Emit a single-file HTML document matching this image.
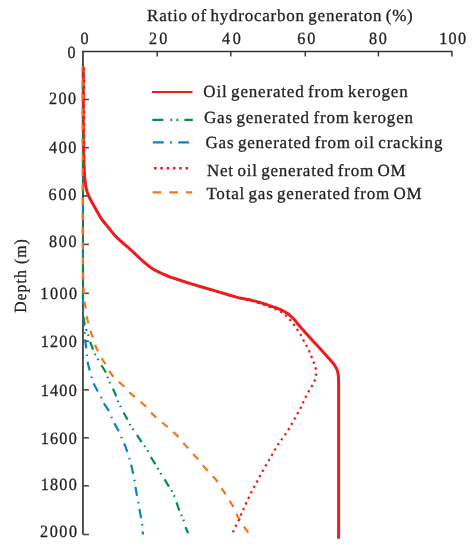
<!DOCTYPE html>
<html><head><meta charset="utf-8"><style>
html,body{margin:0;padding:0;background:#fff;}
svg{display:block;}
text{font-family:"Liberation Serif","Times New Roman",serif;fill:#231f20;stroke:#231f20;stroke-width:0.3px;text-rendering:geometricPrecision;}
</style></head><body>
<svg width="474" height="550" viewBox="0 0 474 550">
<rect width="474" height="550" fill="#fff"/>
<path d="M82.95,534.5 L82.95,51.5" fill="none" stroke="#4a4a4a" stroke-width="1.9"/>
<path d="M82.0,51.5 L451.9,51.5 L451.9,56.6" fill="none" stroke="#333" stroke-width="1.5" stroke-linejoin="miter"/>
<line x1="157.2" y1="51.5" x2="157.2" y2="56.4" stroke="#333" stroke-width="1.4"/>
<line x1="230.8" y1="51.5" x2="230.8" y2="56.4" stroke="#333" stroke-width="1.4"/>
<line x1="305.3" y1="51.5" x2="305.3" y2="56.4" stroke="#333" stroke-width="1.4"/>
<line x1="378.4" y1="51.5" x2="378.4" y2="56.4" stroke="#333" stroke-width="1.4"/>
<line x1="82.95" y1="99.5" x2="88.9" y2="99.5" stroke="#4a4a4a" stroke-width="1.6"/>
<line x1="82.95" y1="147.7" x2="88.9" y2="147.7" stroke="#4a4a4a" stroke-width="1.6"/>
<line x1="82.95" y1="195.9" x2="88.9" y2="195.9" stroke="#4a4a4a" stroke-width="1.6"/>
<line x1="82.95" y1="244.4" x2="88.9" y2="244.4" stroke="#4a4a4a" stroke-width="1.6"/>
<line x1="82.95" y1="293.3" x2="88.9" y2="293.3" stroke="#4a4a4a" stroke-width="1.6"/>
<line x1="82.95" y1="341.2" x2="88.9" y2="341.2" stroke="#4a4a4a" stroke-width="1.6"/>
<line x1="82.95" y1="389.8" x2="88.9" y2="389.8" stroke="#4a4a4a" stroke-width="1.6"/>
<line x1="82.95" y1="437.8" x2="88.9" y2="437.8" stroke="#4a4a4a" stroke-width="1.6"/>
<line x1="82.95" y1="485.8" x2="88.9" y2="485.8" stroke="#4a4a4a" stroke-width="1.6"/>
<line x1="82.95" y1="534.5" x2="88.9" y2="534.5" stroke="#4a4a4a" stroke-width="1.6"/>
<path d="M83.00,66.90 C83.00,89.08 83.00,161.15 83.00,200.00 C83.00,238.85 82.90,280.00 83.00,300.00 C83.10,320.00 83.33,314.58 83.60,320.00 C83.87,325.42 84.35,329.23 84.60,332.50 C84.85,335.77 84.83,337.05 85.10,339.60 C85.37,342.15 85.92,345.27 86.20,347.80 C86.48,350.33 86.57,352.43 86.80,354.80 C87.03,357.17 87.12,359.43 87.60,362.00 C88.08,364.57 89.03,367.68 89.70,370.20 C90.37,372.72 90.95,374.92 91.60,377.10 C92.25,379.28 92.58,380.95 93.60,383.30 C94.62,385.65 96.45,388.90 97.70,391.20 C98.95,393.50 100.12,395.13 101.10,397.10 C102.08,399.07 102.33,400.75 103.60,403.00 C104.87,405.25 107.37,408.20 108.70,410.60 C110.03,413.00 110.65,415.28 111.60,417.40 C112.55,419.52 113.23,421.03 114.40,423.30 C115.57,425.57 117.42,428.63 118.60,431.00 C119.77,433.37 120.50,435.40 121.45,437.50 C122.40,439.60 123.31,441.17 124.30,443.60 C125.29,446.03 126.55,449.62 127.40,452.10 C128.25,454.58 128.78,456.40 129.40,458.50 C130.02,460.60 130.50,462.28 131.10,464.70 C131.70,467.12 132.45,470.50 133.00,473.00 C133.55,475.50 133.99,477.38 134.40,479.70 C134.81,482.02 135.00,484.13 135.45,486.90 C135.90,489.67 136.59,493.58 137.10,496.30 C137.61,499.02 138.12,501.10 138.50,503.20 C138.88,505.30 138.93,506.20 139.40,508.90 C139.87,511.60 140.82,516.70 141.30,519.40 C141.78,522.10 142.07,523.05 142.30,525.10 C142.53,527.15 142.58,530.13 142.70,531.70 C142.82,533.27 142.95,534.03 143.00,534.50" fill="none" stroke="#0484c8" stroke-width="2.2" stroke-dasharray="9 6.25 1.6 5.66" stroke-dashoffset="20.08"/>
<path d="M83.30,66.90 L83.30,69.19 L83.30,70.96 L83.30,72.91 L83.30,74.91 L83.30,76.91 L83.30,78.92 L83.30,80.92 L83.30,82.92 L83.30,84.92 L83.30,86.93 L83.30,88.93 L83.30,90.93 L83.30,92.94 L83.30,94.94 L83.30,96.94 L83.30,98.94 L83.30,100.95 L83.30,102.95 L83.30,104.95 L83.30,106.95 L83.30,108.96 L83.30,110.96 L83.30,112.96 L83.30,114.97 L83.30,116.97 L83.30,118.97 L83.31,120.97 L83.32,122.98 L83.33,124.98 L83.35,126.98 L83.36,128.98 L83.37,130.99 L83.39,132.99 L83.40,134.99 L83.41,136.99 L83.43,139.00 L83.44,141.00 L83.45,143.00 L83.47,145.01 L83.48,147.01 L83.51,149.01 L83.55,151.01 L83.60,153.01 L83.67,155.02 L83.73,157.02 L83.80,159.02 L83.87,161.02 L83.94,163.02 L84.02,165.02 L84.11,167.02 L84.20,169.02 L84.30,171.02 L84.41,173.02 L84.52,175.02 L84.68,177.02 L84.88,179.01 L85.11,181.00 L85.37,182.98 L85.64,184.97 L85.96,186.94 L86.38,188.89 L86.89,190.82 L87.48,192.73 L88.15,194.61 L88.92,196.45 L89.79,198.24 L90.72,200.02 L91.67,201.78 L92.64,203.53 L93.61,205.28 L94.59,207.03 L95.57,208.78 L96.55,210.52 L97.54,212.26 L98.54,214.00 L99.54,215.73 L100.58,217.44 L101.68,219.11 L102.87,220.71 L104.12,222.27 L105.39,223.82 L106.67,225.36 L107.93,226.91 L109.19,228.47 L110.45,230.03 L111.70,231.60 L112.96,233.15 L114.24,234.69 L115.58,236.17 L116.99,237.58 L118.45,238.95 L119.93,240.30 L121.42,241.64 L122.91,242.97 L124.42,244.29 L125.94,245.59 L127.46,246.89 L128.98,248.20 L130.49,249.51 L131.98,250.85 L133.44,252.22 L134.88,253.61 L136.31,255.01 L137.75,256.41 L139.19,257.79 L140.66,259.15 L142.17,260.47 L143.69,261.77 L145.23,263.05 L146.77,264.33 L148.31,265.61 L149.87,266.86 L151.48,268.04 L153.16,269.11 L154.90,270.07 L156.68,270.98 L158.48,271.87 L160.28,272.74 L162.09,273.59 L163.92,274.41 L165.75,275.22 L167.59,276.00 L169.46,276.73 L171.34,277.40 L173.24,278.02 L175.15,278.64 L177.05,279.26 L178.95,279.89 L180.85,280.52 L182.76,281.15 L184.66,281.77 L186.57,282.38 L188.48,282.98 L190.39,283.57 L192.31,284.15 L194.23,284.73 L196.14,285.31 L198.06,285.88 L199.98,286.45 L201.90,287.01 L203.83,287.56 L205.76,288.11 L207.68,288.66 L209.61,289.21 L211.53,289.77 L213.45,290.34 L215.37,290.92 L217.28,291.50 L219.20,292.08 L221.12,292.66 L223.04,293.23 L224.95,293.81 L226.87,294.38 L228.80,294.94 L230.72,295.50 L232.64,296.05 L234.57,296.61 L236.50,297.14 L238.44,297.64 L240.39,298.08 L242.35,298.47 L244.32,298.84 L246.29,299.21 L248.26,299.57 L250.22,299.96 L252.17,300.39 L254.11,300.88 L256.04,301.41 L257.97,301.96 L259.89,302.52 L261.81,303.08 L263.73,303.67 L265.63,304.29 L267.53,304.93 L269.42,305.58 L271.32,306.21 L273.23,306.84 L275.13,307.46 L277.01,308.12 L278.87,308.86 L280.70,309.67 L282.50,310.54 L284.28,311.45 L286.01,312.44 L287.65,313.55 L289.21,314.78 L290.72,316.09 L292.20,317.44 L293.60,318.86 L294.94,320.34 L296.21,321.88 L297.47,323.44 L298.73,325.00 L300.01,326.54 L301.31,328.06 L302.63,329.56 L303.97,331.05 L305.31,332.54 L306.66,334.02 L308.00,335.51 L309.35,336.99 L310.71,338.46 L312.06,339.93 L313.42,341.40 L314.78,342.88 L316.14,344.35 L317.49,345.83 L318.84,347.31 L320.18,348.79 L321.53,350.28 L322.87,351.76 L324.21,353.25 L325.56,354.73 L326.91,356.21 L328.26,357.68 L329.61,359.16 L330.95,360.66 L332.24,362.18 L333.49,363.74 L334.67,365.35 L335.73,367.03 L336.63,368.80 L337.34,370.64 L337.87,372.55 L338.22,374.51 L338.43,376.49 L338.53,378.49 L338.57,380.49 L338.58,382.49 L338.59,384.49 L338.60,386.49 L338.60,388.50 L338.60,390.50 L338.60,392.50 L338.60,394.50 L338.60,396.51 L338.60,398.51 L338.60,400.51 L338.60,402.51 L338.60,404.52 L338.60,406.52 L338.60,408.52 L338.60,410.53 L338.60,412.53 L338.60,414.53 L338.60,416.53 L338.60,418.54 L338.60,420.54 L338.60,422.54 L338.60,424.54 L338.60,426.55 L338.60,428.55 L338.60,430.55 L338.60,432.56 L338.60,434.56 L338.60,436.56 L338.60,438.56 L338.60,440.57 L338.60,442.57 L338.60,444.57 L338.60,446.57 L338.60,448.58 L338.60,450.58 L338.60,452.58 L338.60,454.59 L338.60,456.59 L338.60,458.59 L338.60,460.59 L338.60,462.60 L338.60,464.60 L338.60,466.60 L338.60,468.60 L338.60,470.61 L338.60,472.61 L338.60,474.61 L338.60,476.62 L338.60,478.62 L338.60,480.62 L338.60,482.62 L338.60,484.63 L338.60,486.63 L338.60,488.63 L338.60,490.63 L338.60,492.64 L338.60,494.64 L338.60,496.64 L338.60,498.65 L338.60,500.65 L338.60,502.65 L338.60,504.65 L338.60,506.66 L338.60,508.66 L338.60,510.66 L338.60,512.66 L338.60,514.67 L338.60,516.67 L338.60,518.67 L338.60,520.68 L338.60,522.68 L338.60,524.68 L338.60,526.68 L338.60,528.69 L338.60,530.69 L338.60,532.69 L338.60,534.64 L338.60,536.41 L338.60,538.70 L338.60,538.70" fill="none" stroke="#ee1c1c" stroke-width="3.0"/>
<path d="M83.00,66.90 C83.00,89.08 83.00,161.15 83.00,200.00 C83.00,238.85 82.95,281.00 83.00,300.00 C83.05,319.00 83.10,310.33 83.30,314.00 C83.50,317.67 83.72,319.40 84.20,322.00 C84.68,324.60 85.50,327.37 86.20,329.60 C86.90,331.83 87.73,333.35 88.40,335.40 C89.07,337.45 89.38,339.45 90.20,341.90 C91.02,344.35 92.47,348.02 93.30,350.10 C94.13,352.18 94.38,352.80 95.20,354.40 C96.02,356.00 97.17,357.92 98.20,359.70 C99.23,361.48 100.07,362.87 101.40,365.10 C102.73,367.33 105.18,371.13 106.20,373.10 C107.22,375.07 106.95,375.42 107.50,376.90 C108.05,378.38 108.60,380.03 109.50,382.00 C110.40,383.97 111.77,386.32 112.90,388.70 C114.03,391.08 115.45,394.18 116.30,396.30 C117.15,398.42 117.30,399.72 118.00,401.40 C118.70,403.08 119.58,404.58 120.50,406.40 C121.42,408.22 122.32,410.05 123.50,412.30 C124.68,414.55 126.47,417.78 127.60,419.90 C128.73,422.02 129.37,423.38 130.30,425.00 C131.23,426.62 132.13,427.98 133.20,429.60 C134.27,431.22 135.22,432.50 136.70,434.70 C138.18,436.90 140.70,440.80 142.10,442.80 C143.50,444.80 144.12,445.30 145.10,446.70 C146.08,448.10 147.10,449.60 148.00,451.20 C148.90,452.80 149.23,454.05 150.50,456.30 C151.77,458.55 154.33,462.60 155.60,464.70 C156.87,466.80 157.20,467.35 158.10,468.90 C159.00,470.45 159.93,472.27 161.00,474.00 C162.07,475.73 163.10,477.08 164.50,479.30 C165.90,481.52 168.20,485.37 169.40,487.30 C170.60,489.23 170.83,489.35 171.70,490.90 C172.57,492.45 173.75,494.55 174.60,496.60 C175.45,498.65 175.87,500.52 176.80,503.20 C177.73,505.88 179.32,510.48 180.20,512.70 C181.08,514.92 181.47,515.07 182.10,516.50 C182.73,517.93 183.42,519.55 184.00,521.30 C184.58,523.05 185.02,525.27 185.60,527.00 C186.18,528.73 187.10,530.65 187.50,531.70 C187.90,532.75 187.92,533.03 188.00,533.30" fill="none" stroke="#00904a" stroke-width="2.2" stroke-dasharray="8.3 4.6 1.6 4.0 1.6 6.07" stroke-dashoffset="12.02"/>
<path d="M82.70,66.90 C82.70,89.08 82.67,167.82 82.70,200.00 C82.73,232.18 82.78,245.83 82.90,260.00 C83.02,274.17 83.15,278.18 83.40,285.00 C83.65,291.82 84.02,297.12 84.40,300.90 C84.78,304.68 85.32,305.12 85.70,307.70 C86.08,310.28 86.27,313.90 86.70,316.40 C87.13,318.90 87.70,320.32 88.30,322.70 C88.90,325.08 89.55,328.28 90.30,330.70 C91.05,333.12 92.00,334.82 92.80,337.20 C93.60,339.58 94.23,342.70 95.10,345.00 C95.97,347.30 96.85,348.70 98.00,351.00 C99.15,353.30 100.73,356.57 102.00,358.80 C103.27,361.03 104.33,362.30 105.60,364.40 C106.87,366.50 108.30,369.32 109.60,371.40 C110.90,373.48 111.87,375.15 113.40,376.90 C114.93,378.65 116.92,380.22 118.80,381.90 C120.68,383.58 123.02,385.30 124.70,387.00 C126.38,388.70 127.20,390.47 128.90,392.10 C130.60,393.73 133.07,395.25 134.90,396.80 C136.73,398.35 138.08,399.80 139.90,401.40 C141.72,403.00 143.97,404.58 145.80,406.40 C147.63,408.22 149.20,410.47 150.90,412.30 C152.60,414.13 154.10,415.70 156.00,417.40 C157.90,419.10 160.40,420.93 162.30,422.50 C164.20,424.07 165.62,425.27 167.40,426.80 C169.18,428.33 171.17,430.02 173.00,431.70 C174.83,433.38 176.73,435.07 178.40,436.90 C180.07,438.73 181.40,440.85 183.00,442.70 C184.60,444.55 186.23,446.03 188.00,448.00 C189.77,449.97 191.97,452.67 193.60,454.50 C195.23,456.33 196.25,457.18 197.80,459.00 C199.35,460.82 201.28,463.48 202.90,465.40 C204.52,467.32 205.82,468.67 207.50,470.50 C209.18,472.33 211.37,474.57 213.00,476.40 C214.63,478.23 215.88,479.53 217.30,481.50 C218.72,483.47 220.15,486.15 221.50,488.20 C222.85,490.25 224.08,491.75 225.40,493.80 C226.72,495.85 228.08,498.33 229.40,500.50 C230.72,502.67 232.15,504.58 233.30,506.80 C234.45,509.02 235.23,511.65 236.30,513.80 C237.37,515.95 238.43,517.60 239.70,519.70 C240.97,521.80 242.50,524.30 243.90,526.40 C245.30,528.50 247.25,531.07 248.10,532.30 C248.95,533.53 248.85,533.55 249.00,533.80" fill="none" stroke="#f7741a" stroke-width="2.2" stroke-dasharray="7.3 7.54" stroke-dashoffset="2.67"/>
<path d="M84.00,66.90 L84.00,69.06 L84.00,70.92 L84.00,72.90 L84.00,74.90 L84.00,76.91 L84.00,78.91 L84.00,80.91 L84.00,82.91 L84.00,84.91 L84.00,86.91 L84.00,88.91 L84.00,90.91 L84.00,92.92 L84.00,94.92 L84.00,96.92 L84.00,98.92 L84.00,100.92 L84.00,102.92 L84.00,104.92 L84.00,106.92 L84.00,108.93 L84.00,110.93 L84.00,112.93 L84.00,114.93 L84.00,116.93 L84.00,118.93 L84.00,120.93 L84.01,122.93 L84.02,124.93 L84.02,126.94 L84.03,128.94 L84.04,130.94 L84.04,132.94 L84.05,134.94 L84.06,136.94 L84.06,138.94 L84.07,140.94 L84.08,142.95 L84.08,144.95 L84.09,146.95 L84.09,148.95 L84.09,150.95 L84.08,152.95 L84.07,154.95 L84.05,156.95 L84.04,158.95 L84.03,160.96 L84.02,162.96 L84.04,164.96 L84.11,166.96 L84.20,168.96 L84.30,170.95 L84.40,172.95 L84.51,174.95 L84.66,176.95 L84.86,178.93 L85.10,180.92 L85.35,182.91 L85.61,184.89 L85.92,186.86 L86.33,188.82 L86.85,190.74 L87.44,192.65 L88.08,194.54 L88.85,196.38 L89.74,198.17 L90.67,199.94 L91.62,201.70 L92.59,203.45 L93.56,205.20 L94.54,206.95 L95.52,208.69 L96.50,210.43 L97.49,212.17 L98.48,213.91 L99.48,215.65 L100.50,217.37 L101.59,219.04 L102.79,220.63 L104.04,222.19 L105.32,223.73 L106.59,225.27 L107.86,226.82 L109.12,228.38 L110.37,229.94 L111.62,231.50 L112.87,233.06 L114.14,234.61 L115.47,236.10 L116.88,237.51 L118.35,238.87 L119.83,240.21 L121.31,241.55 L122.81,242.89 L124.32,244.20 L125.83,245.50 L127.35,246.80 L128.88,248.10 L130.39,249.41 L131.88,250.75 L133.34,252.12 L134.78,253.51 L136.21,254.91 L137.64,256.30 L139.08,257.70 L140.54,259.06 L142.04,260.38 L143.57,261.67 L145.11,262.95 L146.65,264.23 L148.19,265.51 L149.73,266.78 L151.32,267.98 L152.99,269.06 L154.74,270.01 L156.53,270.91 L158.32,271.80 L160.12,272.68 L161.93,273.52 L163.76,274.34 L165.59,275.16 L167.42,275.95 L169.28,276.69 L171.17,277.35 L173.07,277.97 L174.97,278.59 L176.88,279.20 L178.78,279.83 L180.68,280.46 L182.58,281.09 L184.48,281.72 L186.38,282.33 L188.29,282.92 L190.21,283.51 L192.12,284.09 L194.03,284.67 L195.95,285.25 L197.87,285.82 L199.79,286.39 L201.71,286.96 L203.63,287.51 L205.56,288.05 L207.48,288.60 L209.41,289.14 L211.33,289.71 L213.24,290.28 L215.16,290.86 L217.08,291.44 L218.99,292.01 L220.91,292.59 L222.82,293.17 L224.74,293.75 L226.66,294.32 L228.58,294.88 L230.50,295.44 L232.42,295.99 L234.35,296.55 L236.27,297.09 L238.20,297.62 L240.14,298.12 L242.09,298.58 L244.04,299.03 L245.99,299.47 L247.94,299.92 L249.89,300.38 L251.83,300.86 L253.75,301.41 L255.66,301.99 L257.57,302.59 L259.48,303.18 L261.39,303.79 L263.29,304.42 L265.17,305.10 L267.04,305.82 L268.90,306.56 L270.75,307.30 L272.61,308.04 L274.47,308.78 L276.33,309.52 L278.18,310.28 L279.97,311.15 L281.66,312.19 L283.29,313.34 L284.87,314.56 L286.35,315.89 L287.72,317.33 L289.04,318.84 L290.33,320.36 L291.61,321.90 L292.88,323.45 L294.11,325.02 L295.28,326.64 L296.41,328.30 L297.51,329.96 L298.62,331.63 L299.72,333.30 L300.77,335.00 L301.72,336.75 L302.59,338.55 L303.47,340.35 L304.42,342.10 L305.43,343.83 L306.45,345.55 L307.40,347.30 L308.27,349.10 L309.10,350.92 L309.89,352.76 L310.64,354.61 L311.38,356.47 L312.13,358.33 L312.88,360.19 L313.62,362.04 L314.34,363.91 L314.99,365.80 L315.54,367.71 L315.93,369.66 L316.14,371.64 L316.18,373.62 L315.99,375.59 L315.60,377.54 L315.05,379.45 L314.33,381.30 L313.48,383.10 L312.55,384.87 L311.55,386.60 L310.51,388.31 L309.47,390.02 L308.47,391.75 L307.52,393.51 L306.60,395.29 L305.70,397.08 L304.82,398.87 L303.96,400.68 L303.11,402.49 L302.27,404.31 L301.42,406.12 L300.53,407.91 L299.60,409.68 L298.65,411.44 L297.69,413.20 L296.73,414.95 L295.76,416.70 L294.80,418.46 L293.85,420.22 L292.90,421.98 L291.93,423.74 L290.95,425.48 L289.95,427.21 L288.92,428.92 L287.84,430.61 L286.75,432.28 L285.62,433.94 L284.47,435.58 L283.31,437.21 L282.14,438.83 L280.98,440.46 L279.81,442.08 L278.66,443.72 L277.56,445.39 L276.50,447.09 L275.47,448.80 L274.47,450.53 L273.49,452.28 L272.52,454.03 L271.54,455.78 L270.55,457.52 L269.55,459.25 L268.53,460.97 L267.50,462.69 L266.47,464.40 L265.45,466.12 L264.46,467.86 L263.48,469.60 L262.51,471.35 L261.53,473.10 L260.57,474.85 L259.62,476.62 L258.71,478.40 L257.80,480.18 L256.88,481.96 L255.94,483.72 L254.97,485.47 L254.01,487.23 L253.05,488.99 L252.11,490.75 L251.19,492.53 L250.32,494.33 L249.48,496.14 L248.64,497.96 L247.79,499.77 L246.92,501.58 L246.07,503.39 L245.23,505.20 L244.40,507.02 L243.57,508.85 L242.76,510.67 L241.94,512.50 L241.15,514.34 L240.39,516.19 L239.64,518.04 L238.85,519.88 L238.00,521.69 L237.10,523.48 L236.20,525.26 L235.32,527.06 L234.47,528.87 L233.68,530.65 L233.07,532.20 L232.60,533.50" fill="none" stroke="#ee1c1c" stroke-width="2.3" stroke-dasharray="2.3 3.825" stroke-dashoffset="5.21"/>
<line x1="152" y1="92" x2="192.5" y2="92" stroke="#ee1c1c" stroke-width="2.2"/>
<line x1="152.3" y1="119.8" x2="192.8" y2="119.8" stroke="#00904a" stroke-width="2.2" stroke-dasharray="11.1 7 1.8 4.2 1.8 6.2 11"/>
<line x1="152.8" y1="142.4" x2="189" y2="142.4" stroke="#0484c8" stroke-width="2.2" stroke-dasharray="10.9 6.4 1.8 6.4 11"/>
<line x1="154" y1="168.2" x2="190" y2="168.2" stroke="#ee1c1c" stroke-width="2.5" stroke-dasharray="2.6 3.7"/>
<line x1="152.6" y1="192.3" x2="192.2" y2="192.3" stroke="#f7741a" stroke-width="2.2" stroke-dasharray="8.6 8.1"/>
<text transform="translate(147.05,20.86) scale(1.0,1)" font-size="17" word-spacing="-1.5" textLength="265.74" lengthAdjust="spacing">Ratio of hydrocarbon generaton (%)</text>
<text transform="translate(80.39,43.71) scale(0.94,1)" font-size="17.2">0</text>
<text transform="translate(149.00,44.37) scale(0.94,1)" font-size="17.2" textLength="19.56" lengthAdjust="spacing">20</text>
<text transform="translate(222.05,43.95) scale(0.94,1)" font-size="17.2" textLength="19.95" lengthAdjust="spacing">40</text>
<text transform="translate(297.16,44.41) scale(0.94,1)" font-size="17.2" textLength="19.39" lengthAdjust="spacing">60</text>
<text transform="translate(369.03,44.35) scale(0.94,1)" font-size="17.2" textLength="18.92" lengthAdjust="spacing">80</text>
<text transform="translate(439.14,43.81) scale(0.94,1)" font-size="17.2" textLength="28.58" lengthAdjust="spacing">100</text>
<text transform="translate(67.47,57.72) scale(0.94,1)" font-size="17.2">0</text>
<text transform="translate(48.93,104.19) scale(0.94,1)" font-size="17.2" textLength="28.75" lengthAdjust="spacing">200</text>
<text transform="translate(49.09,153.11) scale(0.94,1)" font-size="17.2" textLength="29.01" lengthAdjust="spacing">400</text>
<text transform="translate(48.60,200.28) scale(0.94,1)" font-size="17.2" textLength="29.53" lengthAdjust="spacing">600</text>
<text transform="translate(49.03,247.31) scale(0.94,1)" font-size="17.2" textLength="29.24" lengthAdjust="spacing">800</text>
<text transform="translate(40.36,299.41) scale(0.94,1)" font-size="17.2" textLength="39.03" lengthAdjust="spacing">1000</text>
<text transform="translate(40.73,346.73) scale(0.94,1)" font-size="17.2" textLength="38.32" lengthAdjust="spacing">1200</text>
<text transform="translate(40.73,396.49) scale(0.94,1)" font-size="17.2" textLength="38.32" lengthAdjust="spacing">1400</text>
<text transform="translate(40.73,444.10) scale(0.94,1)" font-size="17.2" textLength="38.32" lengthAdjust="spacing">1600</text>
<text transform="translate(40.73,490.09) scale(0.94,1)" font-size="17.2" textLength="38.32" lengthAdjust="spacing">1800</text>
<text transform="translate(40.01,537.23) scale(0.94,1)" font-size="17.2" textLength="39.41" lengthAdjust="spacing">2000</text>
<text transform="translate(203.33,97.20) scale(1.0,1)" font-size="17" word-spacing="-1.5" textLength="204.31" lengthAdjust="spacing">Oil generated from kerogen</text>
<text transform="translate(203.92,122.70) scale(1.0,1)" font-size="17" word-spacing="-1.5" textLength="209.15" lengthAdjust="spacing">Gas generated from kerogen</text>
<text transform="translate(205.53,148.00) scale(1.0,1)" font-size="17" word-spacing="-1.5" textLength="236.89" lengthAdjust="spacing">Gas generated from oil cracking</text>
<text transform="translate(206.98,176.00) scale(1.0,1)" font-size="17" word-spacing="-1.5" textLength="198.73" lengthAdjust="spacing">Net oil generated from OM</text>
<text transform="translate(206.40,198.50) scale(1.0,1)" font-size="17" word-spacing="-1.5" textLength="215.28" lengthAdjust="spacing">Total gas generated from OM</text>
<text transform="translate(25.80,312.85) rotate(-90) scale(0.92,1)" font-size="17" textLength="80.10" lengthAdjust="spacing">Depth (m)</text>
</svg>
</body></html>
